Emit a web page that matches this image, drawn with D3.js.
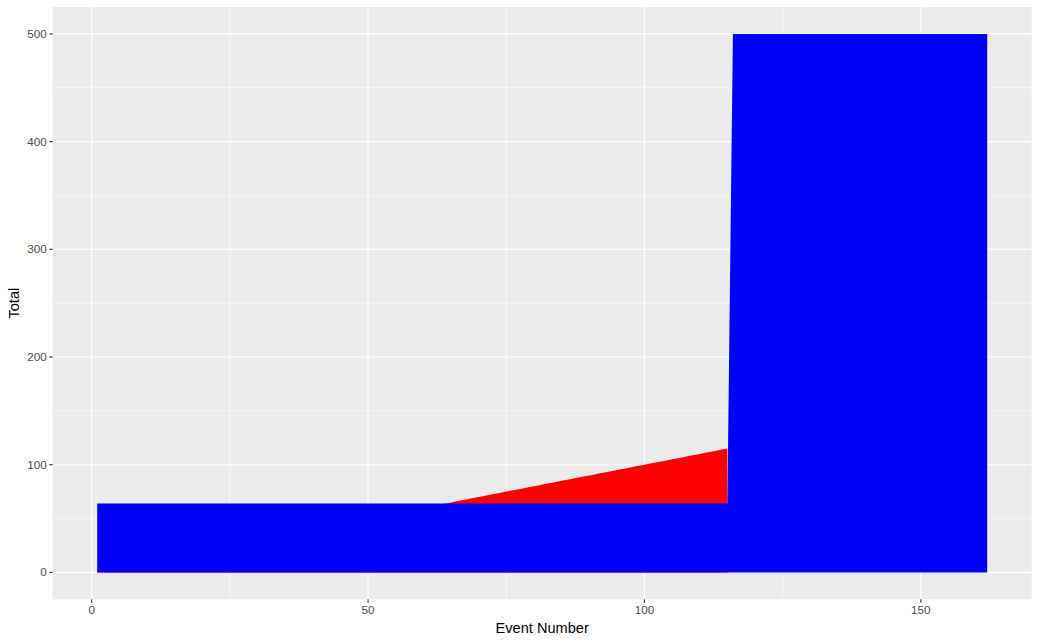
<!DOCTYPE html>
<html>
<head>
<meta charset="utf-8">
<script src="https://cdn.jsdelivr.net/npm/d3@7.9.0/dist/d3.min.js"></script>
<style>
  body { margin: 0; background: #fff; }
  svg { display: block; font-family: "Liberation Sans", Arial, sans-serif; }
</style>
</head>
<body>
<svg id="chart" width="1039" height="641"></svg>
<script>
// red series: events 1..115
const redTotals = [
  1, 2, 3, 4, 5, 6, 7, 8, 9, 10, 11, 12, 13, 14, 15, 16, 17, 18, 19, 20,
  21, 22, 23, 24, 25, 26, 27, 28, 29, 30, 31, 32, 33, 34, 35, 36, 37, 38, 39, 40,
  41, 42, 43, 44, 45, 46, 47, 48, 49, 50, 51, 52, 53, 54, 55, 56, 57, 58, 59, 60,
  61, 62, 63, 64, 65, 66, 67, 68, 69, 70, 71, 72, 73, 74, 75, 76, 77, 78, 79, 80,
  81, 82, 83, 84, 85, 86, 87, 88, 89, 90, 91, 92, 93, 94, 95, 96, 97, 98, 99, 100,
  101, 102, 103, 104, 105, 106, 107, 108, 109, 110, 111, 112, 113, 114, 115
];
// blue series: events 1..162
const blueTotals = [
  64, 64, 64, 64, 64, 64, 64, 64, 64, 64, 64, 64, 64, 64, 64, 64, 64, 64, 64, 64,
  64, 64, 64, 64, 64, 64, 64, 64, 64, 64, 64, 64, 64, 64, 64, 64, 64, 64, 64, 64,
  64, 64, 64, 64, 64, 64, 64, 64, 64, 64, 64, 64, 64, 64, 64, 64, 64, 64, 64, 64,
  64, 64, 64, 64, 64, 64, 64, 64, 64, 64, 64, 64, 64, 64, 64, 64, 64, 64, 64, 64,
  64, 64, 64, 64, 64, 64, 64, 64, 64, 64, 64, 64, 64, 64, 64, 64, 64, 64, 64, 64,
  64, 64, 64, 64, 64, 64, 64, 64, 64, 64, 64, 64, 64, 64, 64,
  500, 500, 500, 500, 500, 500, 500, 500, 500, 500, 500, 500, 500, 500, 500, 500,
  500, 500, 500, 500, 500, 500, 500, 500, 500, 500, 500, 500, 500, 500, 500, 500,
  500, 500, 500, 500, 500, 500, 500, 500, 500, 500, 500, 500, 500, 500, 500
];
const xTicks = [0, 50, 100, 150];
const xMinor = [25, 75, 125];
const yTicks = [0, 100, 200, 300, 400, 500];
const yMinor = [50, 150, 250, 350, 450];

const svg = d3.select("#chart");
const panel = { left: 52.7, right: 1031.7, top: 7, bottom: 599.3 };

// ggplot-style 5% expansion
const xMin = 1, xMax = blueTotals.length;
const xPad = (xMax - xMin) * 0.05;
const x = d3.scaleLinear()
  .domain([xMin - xPad, xMax + xPad])
  .range([panel.left, panel.right]);
const y = d3.scaleLinear()
  .domain([-25, 525])
  .range([panel.bottom, panel.top]);

svg.append("rect")
  .attr("x", panel.left).attr("y", panel.top)
  .attr("width", panel.right - panel.left)
  .attr("height", panel.bottom - panel.top)
  .attr("fill", "#ebebeb");

const grid = svg.append("g");
xMinor.forEach(v => {
  grid.append("line")
    .attr("x1", x(v)).attr("x2", x(v))
    .attr("y1", panel.top).attr("y2", panel.bottom)
    .attr("stroke", "#fff").attr("stroke-width", 0.55);
});
yMinor.forEach(v => {
  grid.append("line")
    .attr("x1", panel.left).attr("x2", panel.right)
    .attr("y1", y(v)).attr("y2", y(v))
    .attr("stroke", "#fff").attr("stroke-width", 0.55);
});
xTicks.forEach(v => {
  grid.append("line")
    .attr("x1", x(v)).attr("x2", x(v))
    .attr("y1", panel.top).attr("y2", panel.bottom)
    .attr("stroke", "#fff").attr("stroke-width", 1.1);
});
yTicks.forEach(v => {
  grid.append("line")
    .attr("x1", panel.left).attr("x2", panel.right)
    .attr("y1", y(v)).attr("y2", y(v))
    .attr("stroke", "#fff").attr("stroke-width", 1.1);
});

const area = d3.area()
  .x((d, i) => x(i + 1))
  .y0(y(0))
  .y1(d => y(d));

svg.append("path")
  .datum(redTotals)
  .attr("d", area)
  .attr("fill", "#ff0000");

svg.append("path")
  .datum(blueTotals)
  .attr("d", area)
  .attr("fill", "#0000ff");

// axes
const xAxis = svg.append("g");
xTicks.forEach(v => {
  xAxis.append("line")
    .attr("x1", x(v)).attr("x2", x(v))
    .attr("y1", panel.bottom).attr("y2", panel.bottom + 3.5)
    .attr("stroke", "#333").attr("stroke-width", 1.1);
  xAxis.append("text")
    .attr("x", x(v)).attr("y", panel.bottom + 15)
    .attr("text-anchor", "middle")
    .attr("font-size", "11.7px")
    .attr("fill", "#4d4d4d")
    .text(v);
});

const yAxis = svg.append("g");
yTicks.forEach(v => {
  yAxis.append("line")
    .attr("x1", panel.left - 3.5).attr("x2", panel.left)
    .attr("y1", y(v)).attr("y2", y(v))
    .attr("stroke", "#333").attr("stroke-width", 1.1);
  yAxis.append("text")
    .attr("x", panel.left - 6).attr("y", y(v) + 4)
    .attr("text-anchor", "end")
    .attr("font-size", "11.7px")
    .attr("fill", "#4d4d4d")
    .text(v);
});

svg.append("text")
  .attr("x", (panel.left + panel.right) / 2)
  .attr("y", 633)
  .attr("text-anchor", "middle")
  .attr("font-size", "14.6px")
  .attr("fill", "#000")
  .text("Event Number");

svg.append("text")
  .attr("transform", `translate(19,${(panel.top + panel.bottom) / 2}) rotate(-90)`)
  .attr("text-anchor", "middle")
  .attr("font-size", "14.6px")
  .attr("fill", "#000")
  .text("Total");
</script>
</body>
</html>
